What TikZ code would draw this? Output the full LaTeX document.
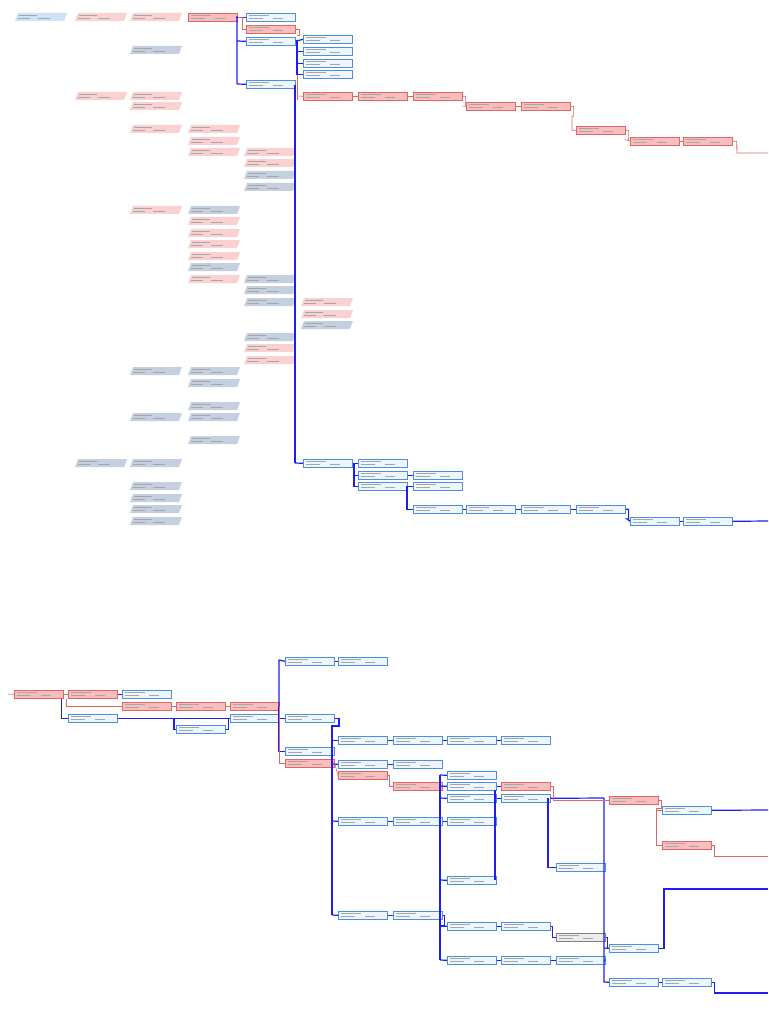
\documentclass[tikz,border=0pt]{standalone}
\definecolor{cbl}{HTML}{4A90E2}\definecolor{cblf}{HTML}{EEF5FD}
\definecolor{crd}{HTML}{E06666}\definecolor{crdf}{HTML}{F9BDBD}
\definecolor{cgyf}{HTML}{C4CFE0}\definecolor{cwire}{HTML}{1E1EF0}
\definecolor{cpkf}{HTML}{FAD0D0}\definecolor{clbf}{HTML}{CFE2F8}
\tikzset{
 taskbase/.style={line width=0.6pt,minimum width=49pt,minimum height=8pt,inner sep=0pt,anchor=north west},
 bluetask/.style={taskbase,draw=cbl,fill=cblf},
 redtask/.style={taskbase,draw=crd,fill=crdf},
 greytask/.style={taskbase,draw=gray,fill=gray!15},
 txtline/.style={draw=gray!70,line width=0.2pt},
 bluewire/.style={draw=cwire,line width=1.2pt},
 redwire/.style={draw=crd,line width=0.6pt}}
\newcommand\mytask[4]{\node[#1] (#2) at (#3pt,-#4pt) {};
 \draw[txtline] (#3pt+3pt,-#4pt-2pt)--++(20pt,0pt) (#3pt+3pt,-#4pt-5.5pt)--++(14pt,0pt)++(10pt,0pt)--++(10pt,0pt);}
\newcommand\mypg[3]{\fill[#1] (#2pt+3pt,-#3pt)--(#2pt+52pt,-#3pt)--(#2pt+49pt,-#3pt-8pt)--(#2pt,-#3pt-8pt)--cycle;
 \draw[txtline] (#2pt+4pt,-#3pt-2.5pt)--++(18pt,0pt) (#2pt+3pt,-#3pt-5.5pt)--++(12pt,0pt)++(8pt,0pt)--++(12pt,0pt);}
\begin{document}
\begin{tikzpicture}[x=1pt,y=-1pt]
\fill[white] (0pt,0pt) rectangle (768pt,-1024pt);
\mypg{clbf}{15}{13}
\mypg{cpkf}{75}{13}\mypg{cpkf}{130}{13}
\mypg{cgyf}{130}{46}
\mypg{cpkf}{75}{92}\mypg{cpkf}{130}{92}\mypg{cpkf}{130}{102}
\mypg{cpkf}{130}{125}\mypg{cpkf}{188}{125}\mypg{cpkf}{188}{137}\mypg{cpkf}{188}{148}
\mypg{cpkf}{244}{148}\mypg{cpkf}{244}{159}\mypg{cgyf}{244}{171}\mypg{cgyf}{244}{183}
\mypg{cpkf}{130}{206}\mypg{cgyf}{188}{206}\mypg{cpkf}{188}{217}\mypg{cpkf}{188}{229}\mypg{cpkf}{188}{240}\mypg{cpkf}{188}{252}
\mypg{cgyf}{188}{263}\mypg{cpkf}{188}{275}
\mypg{cgyf}{244}{275}\mypg{cgyf}{244}{286}\mypg{cgyf}{244}{298}
\mypg{cpkf}{301}{298}\mypg{cpkf}{301}{310}\mypg{cgyf}{301}{321}
\mypg{cgyf}{244}{333}\mypg{cpkf}{244}{344}\mypg{cpkf}{244}{356}
\mypg{cgyf}{130}{367}\mypg{cgyf}{188}{367}\mypg{cgyf}{188}{379}\mypg{cgyf}{188}{402}
\mypg{cgyf}{130}{413}\mypg{cgyf}{188}{413}\mypg{cgyf}{188}{436}
\mypg{cgyf}{75}{459}\mypg{cgyf}{130}{459}
\mypg{cgyf}{130}{482}\mypg{cgyf}{130}{494}\mypg{cgyf}{130}{505}\mypg{cgyf}{130}{517}
% ---------- top network
\mytask{redtask}{a0}{188}{13}
\mytask{bluetask}{a1}{246}{13}\mytask{redtask}{a2}{246}{25}\mytask{bluetask}{a3}{246}{37}\mytask{bluetask}{a4}{246}{80}
\mytask{bluetask}{b1}{303}{35}\mytask{bluetask}{b2}{303}{47}\mytask{bluetask}{b3}{303}{59}\mytask{bluetask}{b4}{303}{70}
\mytask{redtask}{c1}{303}{92}\mytask{redtask}{c2}{358}{92}\mytask{redtask}{c3}{413}{92}
\mytask{redtask}{c4}{466}{102}\mytask{redtask}{c5}{521}{102}
\mytask{redtask}{c6}{576}{126}\mytask{redtask}{c7}{630}{137}\mytask{redtask}{c8}{683}{137}
\coordinate (cend) at (768,153);
\draw[bluewire] (a0.east) -- (237,17) -- (237,84);
\draw[bluewire] (237,17) |- (a1.west);
\draw[bluewire] (237,41) -- (a3.west); \draw[bluewire] (237,84) -- (a4.west);
\draw[redwire] (a0.east) -- ++(5,0) |- (a2.west);
\draw[redwire] (a2.east) -- ++(4,0) -- ++(0,6) -- ++(-3,0);
\draw[bluewire] (a3.east) -- (b1.west);
\draw[redwire] (297,40) -- (297,100);
\draw[bluewire] (297,40) |- (b2.west);\draw[bluewire] (297,40) |- (b3.west);\draw[bluewire] (297,40) |- (b4.west);
\draw[redwire] (297,96) -- (c1.west);
\foreach \p/\q in {c1/c2,c2/c3,c4/c5,c7/c8}{\draw[redwire] (\p.east) -- (\q.west);}
\draw[redwire] (c3.east) -- ++(3,0) -- ++(0,10) -- (462,106) -- (c4.west);
\draw[redwire] (c5.east) -- ++(3,0) -- ++(0,10) -- (572,116) |- (c6.west);
\draw[redwire] (c6.east) -- ++(3,0) -- ++(0,10) -- (627,140) -- (c7.west);
\draw[redwire] (c8.east) -- ++(4,0) -- ++(0,8) -- (737,145) |- (cend);
\draw[bluewire] (295,85) -- (295,463);
\mytask{bluetask}{d1}{303}{459}\mytask{bluetask}{d2}{358}{459}
\mytask{bluetask}{d3}{358}{471}\mytask{bluetask}{d4}{413}{471}
\mytask{bluetask}{d5}{358}{482}\mytask{bluetask}{d6}{413}{482}
\mytask{bluetask}{e1}{413}{505}\mytask{bluetask}{e2}{466}{505}\mytask{bluetask}{e3}{521}{505}\mytask{bluetask}{e4}{576}{505}
\mytask{bluetask}{e5}{630}{517}\mytask{bluetask}{e6}{683}{517}
\coordinate (eend) at (768,521);
\draw[bluewire] (295,463) -- (d1.west);
\draw[bluewire] (d1.east) -- (d2.west);
\draw[bluewire] (354,463) |- (d3.west); \draw[bluewire] (354,463) |- (d5.west);
\draw[bluewire] (d3.east) -- (d4.west);\draw[bluewire] (d5.east) -- (d6.west);
\draw[bluewire] (407,486) |- (e1.west);
\foreach \p/\q in {e1/e2,e2/e3,e3/e4,e5/e6}{\draw[bluewire] (\p.east) -- (\q.west);}
\draw[bluewire] (e4.east) -- ++(3,0) -- ++(0,10) -- (627,519) -- (e5.west);
\draw[bluewire] (e6.east) -- (eend);
% ---------- bottom network
\mytask{bluetask}{f1}{285}{657}\mytask{bluetask}{f2}{338}{657}
\mytask{redtask}{g1}{14}{690}\mytask{redtask}{g2}{68}{690}\mytask{bluetask}{g3}{122}{690}
\mytask{redtask}{h1}{122}{702}\mytask{redtask}{h2}{176}{702}\mytask{redtask}{h3}{230}{702}
\mytask{bluetask}{i1}{68}{714}\mytask{bluetask}{i2}{230}{714}\mytask{bluetask}{i3}{285}{714}
\mytask{bluetask}{i4}{176}{725}
\mytask{bluetask}{j1}{285}{747}\mytask{redtask}{j2}{285}{759}
\mytask{bluetask}{k1}{338}{736}\mytask{bluetask}{k2}{393}{736}\mytask{bluetask}{k3}{447}{736}\mytask{bluetask}{k4}{501}{736}
\mytask{bluetask}{l1}{338}{760}\mytask{bluetask}{l2}{393}{760}
\mytask{redtask}{m1}{338}{771}\mytask{bluetask}{m2}{447}{771}
\mytask{redtask}{n1}{393}{782}\mytask{bluetask}{n2}{447}{782}\mytask{redtask}{n3}{501}{782}
\mytask{bluetask}{o1}{447}{794}\mytask{bluetask}{o2}{501}{794}
\mytask{redtask}{p1}{609}{796}\mytask{bluetask}{p2}{662}{806}
\mytask{bluetask}{q1}{338}{817}\mytask{bluetask}{q2}{393}{817}\mytask{bluetask}{q3}{447}{817}
\mytask{redtask}{p3}{662}{841}
\mytask{bluetask}{r1}{556}{863}\mytask{bluetask}{r2}{447}{876}
\mytask{bluetask}{s1}{338}{911}\mytask{bluetask}{s2}{393}{911}
\mytask{bluetask}{t1}{447}{922}\mytask{bluetask}{t2}{501}{922}\mytask{greytask}{t3}{556}{933}\mytask{bluetask}{t4}{609}{944}
\mytask{bluetask}{u1}{447}{956}\mytask{bluetask}{u2}{501}{956}\mytask{bluetask}{u3}{556}{956}
\mytask{bluetask}{v1}{609}{978}\mytask{bluetask}{v2}{662}{978}
\coordinate (pend) at (768,810);\coordinate (p3end) at (768,856);
\coordinate (wend) at (768,889);\coordinate (vend) at (768,993);
\draw[redwire] (8,694) -- (g1.west);
\draw[redwire] (g1.east) -- (g2.west);\draw[bluewire] (g2.east) -- (g3.west);
\draw[redwire] (g2.south west) ++(-2,0) |- (h1.west);
\draw[bluewire] (g1.south east) ++(-2,0) |- (i1.west);
\draw[redwire] (h1.east) -- (h2.west);\draw[redwire] (h2.east) -- (h3.west);
\draw[bluewire] (i1.east) -- (i2.west);\draw[bluewire] (i2.east) -- (i3.west);
\draw[bluewire] (174,718) |- (i4.west);\draw[bluewire] (i4.east) -- ++(3,0) |- (i2.west);
\draw[bluewire] (h3.east) -- (279,706) -- (279,660) -- (f1.west);\draw[bluewire] (f1.east) -- (f2.west);
\draw[bluewire] (279,706) |- (j1.west);\draw[redwire] (279,706) |- (j2.west);
\draw[bluewire] (i3.east) -| (339,726) -- (332,726) |- (k1.west);
\foreach \p/\q in {k1/k2,k2/k3,k3/k4,l1/l2,q1/q2,q2/q3,s1/s2,t1/t2,u1/u2,u2/u3,v1/v2,n2/n3,o1/o2}{\draw[bluewire] (\p.east) -- (\q.west);}
\draw[bluewire] (332,740) -- (332,915);
\draw[bluewire] (332,764) -- (l1.west);\draw[redwire] (j2.east) -- (m1.west);
\draw[bluewire] (332,821) -- (q1.west);\draw[bluewire] (332,915) -- (s1.west);
\draw[redwire] (m1.east) -- ++(2,0) |- (n1.west);
\draw[redwire] (n1.east) -- (n2.west);
\draw[bluewire] (440,775) -- (m2.west);\draw[bluewire] (440,775) -- (440,960);
\draw[bluewire] (440,786) -- (n2.west);\draw[bluewire] (440,798) -- (o1.west);
\draw[bluewire] (440,880) -- (r2.west);\draw[bluewire] (440,926) -- (t1.west);\draw[bluewire] (440,960) -- (u1.west);
\draw[bluewire] (s2.east) -- ++(2,0) |- (440,926);
\draw[bluewire] (495,790) -- (495,880);\draw[bluewire] (548,798) |- (r1.west);
\draw[bluewire] (o2.east) -- (604,798);\draw[bluewire] (604,798) -- (604,982) -- (v1.west);
\draw[redwire] (n3.east) -- ++(3,0) |- (p1.west);
\draw[bluewire] (t2.east) -- ++(2,0) |- (t3.west);\draw[bluewire] (t3.east) -- ++(2,0) |- (t4.west);
\draw[bluewire] (604,948) -- (t4.west);\draw[bluewire] (u3.east) -- (604,960);
\draw[redwire] (p1.east) -- ++(3,0) |- (656,808) |- (p2.west);
\draw[bluewire] (p2.east) -- (pend);
\draw[redwire] (656,808) |- (p3.west);
\draw[redwire] (p3.east) -- ++(3,0) |- (p3end);
\draw[bluewire] (t4.east) -| (664,889) -- (wend);
\draw[bluewire] (v2.east) -- ++(3,0) |- (vend);
\end{tikzpicture}
\end{document}
